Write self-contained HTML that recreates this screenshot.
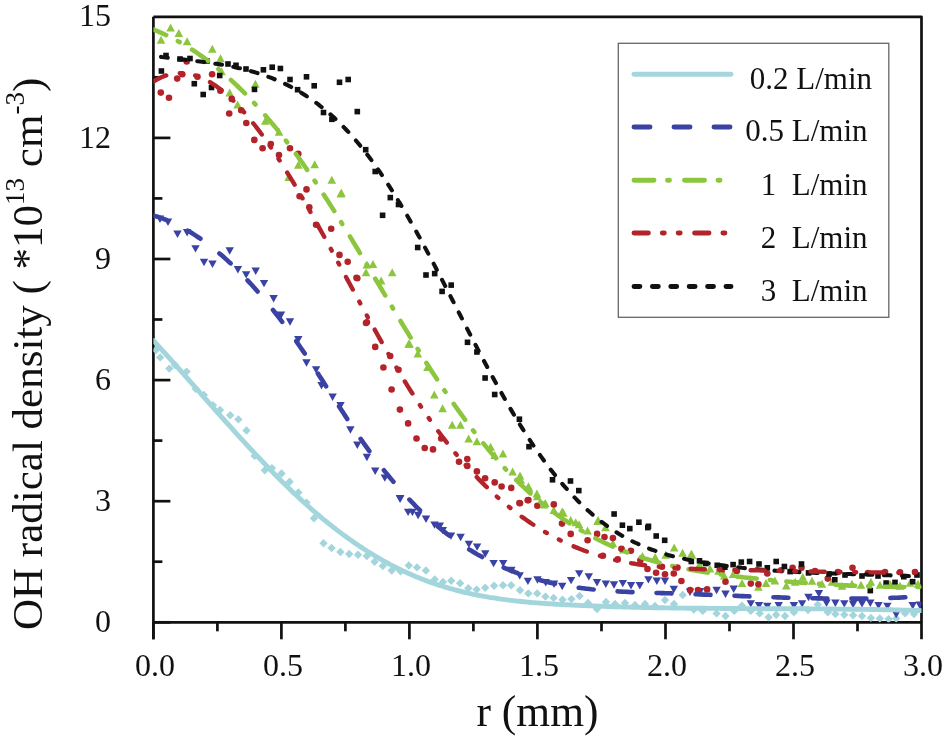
<!DOCTYPE html>
<html><head><meta charset="utf-8"><style>
html,body{margin:0;padding:0;background:#fff;}
svg{display:block;}
text{font-family:'Liberation Serif','Times New Roman',serif;fill:#111;}
.t{font-size:32px;}
.l{font-size:43.5px;}
.l2{font-size:43px;}
.sup{font-size:27px;}
.lg{font-size:31px;}
</style></head><body>
<svg width="947" height="739" viewBox="0 0 947 739">
<path d="M153.4 16.8 H921.5 V639.3" fill="none" stroke="#111" stroke-width="2.7" stroke-linejoin="round"/>
<path d="M153.4 16.8 V639.3" fill="none" stroke="#111" stroke-width="2.7"/>
<path d="M153.4 622.3 H921.5" fill="none" stroke="#111" stroke-width="2.7"/>
<line x1="153.4" y1="622.3" x2="153.4" y2="639.3" stroke="#111" stroke-width="2.7"/>
<line x1="217.4" y1="622.3" x2="217.4" y2="631.3" stroke="#111" stroke-width="2.7"/>
<line x1="281.4" y1="622.3" x2="281.4" y2="639.3" stroke="#111" stroke-width="2.7"/>
<line x1="345.4" y1="622.3" x2="345.4" y2="631.3" stroke="#111" stroke-width="2.7"/>
<line x1="409.4" y1="622.3" x2="409.4" y2="639.3" stroke="#111" stroke-width="2.7"/>
<line x1="473.4" y1="622.3" x2="473.4" y2="631.3" stroke="#111" stroke-width="2.7"/>
<line x1="537.4" y1="622.3" x2="537.4" y2="639.3" stroke="#111" stroke-width="2.7"/>
<line x1="601.5" y1="622.3" x2="601.5" y2="631.3" stroke="#111" stroke-width="2.7"/>
<line x1="665.5" y1="622.3" x2="665.5" y2="639.3" stroke="#111" stroke-width="2.7"/>
<line x1="729.5" y1="622.3" x2="729.5" y2="631.3" stroke="#111" stroke-width="2.7"/>
<line x1="793.5" y1="622.3" x2="793.5" y2="639.3" stroke="#111" stroke-width="2.7"/>
<line x1="857.5" y1="622.3" x2="857.5" y2="631.3" stroke="#111" stroke-width="2.7"/>
<line x1="153.4" y1="622.3" x2="170.4" y2="622.3" stroke="#111" stroke-width="2.7"/>
<line x1="153.4" y1="561.7" x2="162.4" y2="561.7" stroke="#111" stroke-width="2.7"/>
<line x1="153.4" y1="501.2" x2="170.4" y2="501.2" stroke="#111" stroke-width="2.7"/>
<line x1="153.4" y1="440.6" x2="162.4" y2="440.6" stroke="#111" stroke-width="2.7"/>
<line x1="153.4" y1="380.1" x2="170.4" y2="380.1" stroke="#111" stroke-width="2.7"/>
<line x1="153.4" y1="319.5" x2="162.4" y2="319.5" stroke="#111" stroke-width="2.7"/>
<line x1="153.4" y1="259.0" x2="170.4" y2="259.0" stroke="#111" stroke-width="2.7"/>
<line x1="153.4" y1="198.4" x2="162.4" y2="198.4" stroke="#111" stroke-width="2.7"/>
<line x1="153.4" y1="137.9" x2="170.4" y2="137.9" stroke="#111" stroke-width="2.7"/>
<line x1="153.4" y1="77.3" x2="162.4" y2="77.3" stroke="#111" stroke-width="2.7"/>
<defs><clipPath id="pc"><rect x="153.4" y="17" width="768.1" height="605.3"/></clipPath></defs>
<g clip-path="url(#pc)">
<g fill="#a3d5dd"><path d="M160.2 353.2L164.4 357.4L160.2 361.6L156.0 357.4Z"/><path d="M169.3 364.4L173.5 368.6L169.3 372.8L165.1 368.6Z"/><path d="M186.6 367.4L190.8 371.6L186.6 375.8L182.4 371.6Z"/><path d="M195.7 384.7L199.9 388.9L195.7 393.1L191.5 388.9Z"/><path d="M203.8 390.8L208.0 395.0L203.8 399.2L199.6 395.0Z"/><path d="M213.0 401.0L217.2 405.2L213.0 409.4L208.8 405.2Z"/><path d="M230.2 411.1L234.4 415.3L230.2 419.5L226.0 415.3Z"/><path d="M238.4 415.2L242.6 419.4L238.4 423.6L234.2 419.4Z"/><path d="M246.5 426.3L250.7 430.5L246.5 434.7L242.3 430.5Z"/><path d="M254.6 451.7L258.8 455.9L254.6 460.1L250.4 455.9Z"/><path d="M264.8 466.0L269.0 470.2L264.8 474.4L260.6 470.2Z"/><path d="M271.9 463.9L276.1 468.1L271.9 472.3L267.7 468.1Z"/><path d="M156.0 345.8L160.2 350.0L156.0 354.2L151.8 350.0Z"/><path d="M175.0 360.8L179.2 365.0L175.0 369.2L170.8 365.0Z"/><path d="M220.0 405.8L224.2 410.0L220.0 414.2L215.8 410.0Z"/><path d="M281.5 469.3L285.7 473.5L281.5 477.7L277.3 473.5Z"/><path d="M289.6 477.5L293.8 481.7L289.6 485.9L285.4 481.7Z"/><path d="M298.4 488.3L302.6 492.5L298.4 496.7L294.2 492.5Z"/><path d="M306.5 498.4L310.7 502.6L306.5 506.8L302.3 502.6Z"/><path d="M314.0 514.0L318.2 518.2L314.0 522.4L309.8 518.2Z"/><path d="M323.5 539.0L327.7 543.2L323.5 547.4L319.3 543.2Z"/><path d="M331.6 543.8L335.8 548.0L331.6 552.2L327.4 548.0Z"/><path d="M340.4 547.8L344.6 552.0L340.4 556.2L336.2 552.0Z"/><path d="M349.2 549.8L353.4 554.0L349.2 558.2L345.0 554.0Z"/><path d="M358.0 550.5L362.2 554.7L358.0 558.9L353.8 554.7Z"/><path d="M366.8 551.8L371.0 556.0L366.8 560.2L362.6 556.0Z"/><path d="M374.6 557.5L378.8 561.7L374.6 565.9L370.4 561.7Z"/><path d="M382.8 561.9L387.0 566.1L382.8 570.3L378.6 566.1Z"/><path d="M391.7 566.3L395.9 570.5L391.7 574.7L387.5 570.5Z"/><path d="M400.5 567.0L404.7 571.2L400.5 575.4L396.3 571.2Z"/><path d="M408.8 561.3L413.0 565.5L408.8 569.7L404.6 565.5Z"/><path d="M417.0 563.2L421.2 567.4L417.0 571.6L412.8 567.4Z"/><path d="M425.9 566.3L430.1 570.5L425.9 574.7L421.7 570.5Z"/><path d="M434.8 575.2L439.0 579.4L434.8 583.6L430.6 579.4Z"/><path d="M443.0 577.8L447.2 582.0L443.0 586.2L438.8 582.0Z"/><path d="M451.2 576.5L455.4 580.7L451.2 584.9L447.0 580.7Z"/><path d="M460.1 579.0L464.3 583.2L460.1 587.4L455.9 583.2Z"/><path d="M468.3 584.1L472.5 588.3L468.3 592.5L464.1 588.3Z"/><path d="M476.6 585.4L480.8 589.6L476.6 593.8L472.4 589.6Z"/><path d="M485.2 583.5L489.4 587.7L485.2 591.9L481.0 587.7Z"/><path d="M494.1 581.6L498.3 585.8L494.1 590.0L489.9 585.8Z"/><path d="M503.0 581.0L507.2 585.2L503.0 589.4L498.8 585.2Z"/><path d="M511.2 581.0L515.4 585.2L511.2 589.4L507.0 585.2Z"/><path d="M520.0 586.1L524.2 590.3L520.0 594.5L515.8 590.3Z"/><path d="M528.3 589.2L532.5 593.4L528.3 597.6L524.1 593.4Z"/><path d="M537.2 589.2L541.4 593.4L537.2 597.6L533.0 593.4Z"/><path d="M545.4 592.4L549.6 596.6L545.4 600.8L541.2 596.6Z"/><path d="M553.6 593.7L557.8 597.9L553.6 602.1L549.4 597.9Z"/><path d="M562.5 595.6L566.7 599.8L562.5 604.0L558.3 599.8Z"/><path d="M571.4 594.9L575.6 599.1L571.4 603.3L567.2 599.1Z"/><path d="M579.6 591.8L583.8 596.0L579.6 600.2L575.4 596.0Z"/><path d="M597.0 604.8L601.2 609.0L597.0 613.2L592.8 609.0Z"/><path d="M665.0 595.9L669.2 600.1L665.0 604.3L660.8 600.1Z"/><path d="M682.7 590.8L686.9 595.0L682.7 599.2L678.5 595.0Z"/><path d="M588.0 598.8L592.2 603.0L588.0 607.2L583.8 603.0Z"/><path d="M606.0 597.8L610.2 602.0L606.0 606.2L601.8 602.0Z"/><path d="M615.0 599.8L619.2 604.0L615.0 608.2L610.8 604.0Z"/><path d="M625.0 598.8L629.2 603.0L625.0 607.2L620.8 603.0Z"/><path d="M635.0 600.8L639.2 605.0L635.0 609.2L630.8 605.0Z"/><path d="M645.0 599.8L649.2 604.0L645.0 608.2L640.8 604.0Z"/><path d="M655.0 601.8L659.2 606.0L655.0 610.2L650.8 606.0Z"/><path d="M674.0 599.8L678.2 604.0L674.0 608.2L669.8 604.0Z"/><path d="M693.8 605.4L698.0 609.6L693.8 613.8L689.6 609.6Z"/><path d="M702.7 606.7L706.9 610.9L702.7 615.1L698.5 610.9Z"/><path d="M716.6 609.2L720.8 613.4L716.6 617.6L712.4 613.4Z"/><path d="M725.5 611.8L729.7 616.0L725.5 620.2L721.3 616.0Z"/><path d="M734.3 606.7L738.5 610.9L734.3 615.1L730.1 610.9Z"/><path d="M742.0 601.6L746.2 605.8L742.0 610.0L737.8 605.8Z"/><path d="M750.8 606.7L755.0 610.9L750.8 615.1L746.6 610.9Z"/><path d="M759.7 609.2L763.9 613.4L759.7 617.6L755.5 613.4Z"/><path d="M768.6 613.0L772.8 617.2L768.6 621.4L764.4 617.2Z"/><path d="M776.2 610.5L780.4 614.7L776.2 618.9L772.0 614.7Z"/><path d="M785.0 611.8L789.2 616.0L785.0 620.2L780.8 616.0Z"/><path d="M793.9 608.0L798.1 612.2L793.9 616.4L789.7 612.2Z"/><path d="M808.0 605.8L812.2 610.0L808.0 614.2L803.8 610.0Z"/><path d="M817.7 600.4L821.9 604.6L817.7 608.8L813.5 604.6Z"/><path d="M827.8 608.0L832.0 612.2L827.8 616.4L823.6 612.2Z"/><path d="M835.4 609.8L839.6 614.0L835.4 618.2L831.2 614.0Z"/><path d="M844.3 610.5L848.5 614.7L844.3 618.9L840.1 614.7Z"/><path d="M853.1 611.1L857.3 615.3L853.1 619.5L848.9 615.3Z"/><path d="M862.0 611.8L866.2 616.0L862.0 620.2L857.8 616.0Z"/><path d="M870.9 613.7L875.1 617.9L870.9 622.1L866.7 617.9Z"/><path d="M879.8 614.3L884.0 618.5L879.8 622.7L875.6 618.5Z"/><path d="M888.6 614.9L892.8 619.1L888.6 623.3L884.4 619.1Z"/><path d="M896.2 614.3L900.4 618.5L896.2 622.7L892.0 618.5Z"/><path d="M905.1 609.2L909.3 613.4L905.1 617.6L900.9 613.4Z"/><path d="M914.0 609.8L918.2 614.0L914.0 618.2L909.8 614.0Z"/></g>
<g fill="#3a42a4"><path d="M242.0 271.2H250.4L246.2 278.6Z"/><path d="M276.8 311.5H285.2L281.0 318.9Z"/><path d="M317.3 382.0H325.7L321.5 389.4Z"/><path d="M336.3 402.0H344.7L340.5 409.4Z"/><path d="M173.3 230.5H181.7L177.5 237.9Z"/><path d="M182.9 229.1H191.3L187.1 236.5Z"/><path d="M191.3 245.2H199.7L195.5 252.6Z"/><path d="M199.8 258.8H208.2L204.0 266.2Z"/><path d="M208.3 260.5H216.7L212.5 267.9Z"/><path d="M225.5 247.3H233.9L229.7 254.7Z"/><path d="M233.7 266.1H242.1L237.9 273.5Z"/><path d="M251.5 267.5H259.9L255.7 274.9Z"/><path d="M259.8 279.9H268.2L264.0 287.3Z"/><path d="M269.4 295.0H277.8L273.6 302.4Z"/><path d="M285.8 318.3H294.2L290.0 325.7Z"/><path d="M294.1 336.0H302.5L298.3 343.4Z"/><path d="M302.3 359.3H310.7L306.5 366.7Z"/><path d="M311.9 366.2H320.3L316.1 373.6Z"/><path d="M328.4 393.5H336.8L332.6 400.9Z"/><path d="M346.2 426.3H354.6L350.4 433.7Z"/><path d="M353.1 441.5H361.5L357.3 448.9Z"/><path d="M362.7 453.8H371.1L366.9 461.2Z"/><path d="M371.0 467.5H379.4L375.2 474.9Z"/><path d="M380.6 474.4H389.0L384.8 481.8Z"/><path d="M395.7 495.0H404.1L399.9 502.4Z"/><path d="M403.9 508.7H412.3L408.1 516.1Z"/><path d="M408.2 508.7H416.6L412.4 516.1Z"/><path d="M421.8 515.5H430.2L426.0 522.9Z"/><path d="M435.6 522.5H444.0L439.8 529.9Z"/><path d="M396.0 495.3H404.4L400.2 502.7Z"/><path d="M413.9 511.8H422.3L418.1 519.2Z"/><path d="M430.3 521.4H438.7L434.5 528.8Z"/><path d="M438.6 526.9H447.0L442.8 534.3Z"/><path d="M446.8 532.4H455.2L451.0 539.8Z"/><path d="M456.4 533.8H464.8L460.6 541.2Z"/><path d="M464.7 540.7H473.1L468.9 548.1Z"/><path d="M472.9 543.4H481.3L477.1 550.8Z"/><path d="M481.1 550.3H489.5L485.3 557.7Z"/><path d="M489.4 559.9H497.8L493.6 567.3Z"/><path d="M499.0 559.9H507.4L503.2 567.3Z"/><path d="M507.2 566.7H515.6L511.4 574.1Z"/><path d="M515.5 572.2H523.9L519.7 579.6Z"/><path d="M523.7 577.7H532.1L527.9 585.1Z"/><path d="M533.3 576.3H541.7L537.5 583.7Z"/><path d="M541.5 579.1H549.9L545.7 586.5Z"/><path d="M549.8 580.5H558.2L554.0 587.9Z"/><path d="M558.0 582.8H566.4L562.2 590.2Z"/><path d="M566.9 576.9H575.3L571.1 584.3Z"/><path d="M575.0 570.2H583.4L579.2 577.6Z"/><path d="M584.6 573.2H593.0L588.8 580.6Z"/><path d="M592.8 579.1H601.2L597.0 586.5Z"/><path d="M601.6 580.6H610.0L605.8 588.0Z"/><path d="M609.8 581.3H618.2L614.0 588.7Z"/><path d="M618.6 579.9H627.0L622.8 587.3Z"/><path d="M626.8 582.1H635.2L631.0 589.5Z"/><path d="M635.6 582.1H644.0L639.8 589.5Z"/><path d="M644.2 576.2H652.6L648.4 583.6Z"/><path d="M652.6 577.6H661.0L656.8 585.0Z"/><path d="M660.8 577.6H669.2L665.0 585.0Z"/><path d="M669.6 585.8H678.0L673.8 593.2Z"/><path d="M685.8 588.5H694.2L690.0 595.9Z"/><path d="M695.9 588.1H704.3L700.1 595.5Z"/><path d="M712.4 586.8H720.8L716.6 594.2Z"/><path d="M721.3 590.6H729.7L725.5 598.0Z"/><path d="M729.5 585.6H737.9L733.7 593.0Z"/><path d="M746.6 600.2H755.0L750.8 607.6Z"/><path d="M754.8 602.1H763.2L759.0 609.5Z"/><path d="M763.1 602.7H771.5L767.3 610.1Z"/><path d="M774.5 602.1H782.9L778.7 609.5Z"/><path d="M789.7 602.1H798.1L793.9 609.5Z"/><path d="M797.9 600.2H806.3L802.1 607.6Z"/><path d="M804.3 593.8H812.7L808.5 601.2Z"/><path d="M814.7 590.0H823.1L818.9 597.4Z"/><path d="M822.3 599.5H830.7L826.5 606.9Z"/><path d="M831.2 599.5H839.6L835.4 606.9Z"/><path d="M840.1 600.2H848.5L844.3 607.6Z"/><path d="M848.9 600.8H857.3L853.1 608.2Z"/><path d="M857.8 600.2H866.2L862.0 607.6Z"/><path d="M866.1 599.5H874.5L870.3 606.9Z"/><path d="M874.3 602.1H882.7L878.5 609.5Z"/><path d="M883.2 602.7H891.6L887.4 610.1Z"/><path d="M892.0 610.9H900.4L896.2 618.3Z"/><path d="M908.5 602.1H916.9L912.7 609.5Z"/><path d="M915.5 601.5H923.9L919.7 608.9Z"/><path d="M155.8 215.5H164.2L160.0 222.9Z"/><path d="M163.8 218.5H172.2L168.0 225.9Z"/></g>
<g fill="#8cc63f"><path d="M156.7 43.8H165.3L161.0 35.8Z"/><path d="M166.3 31.4H174.9L170.6 23.4Z"/><path d="M174.5 36.9H183.1L178.8 28.9Z"/><path d="M182.8 45.2H191.4L187.1 37.2Z"/><path d="M208.0 52.8H216.6L212.3 44.8Z"/><path d="M216.2 62.2H224.8L220.5 54.2Z"/><path d="M217.2 75.2H225.8L221.5 67.2Z"/><path d="M225.4 96.6H234.0L229.7 88.6Z"/><path d="M233.3 108.4H241.9L237.6 100.4Z"/><path d="M251.1 87.7H259.7L255.4 79.7Z"/><path d="M261.0 124.7H269.6L265.3 116.7Z"/><path d="M274.7 135.7H283.3L279.0 127.7Z"/><path d="M294.0 168.7H302.6L298.3 160.7Z"/><path d="M310.4 168.2H319.0L314.7 160.2Z"/><path d="M284.4 181.1H293.0L288.7 173.1Z"/><path d="M327.5 183.8H336.1L331.8 175.8Z"/><path d="M336.5 197.5H345.1L340.8 189.5Z"/><path d="M337.1 196.7H345.7L341.4 188.7Z"/><path d="M368.7 268.0H377.3L373.0 260.0Z"/><path d="M361.7 276.3H370.3L366.0 268.3Z"/><path d="M387.9 276.3H396.5L392.2 268.3Z"/><path d="M376.9 284.5H385.5L381.2 276.5Z"/><path d="M404.3 347.7H412.9L408.6 339.7Z"/><path d="M362.6 268.6H371.2L366.9 260.6Z"/><path d="M405.3 347.8H413.9L409.6 339.8Z"/><path d="M413.5 357.4H422.1L417.8 349.4Z"/><path d="M423.2 371.1H431.8L427.5 363.1Z"/><path d="M430.0 398.6H438.6L434.3 390.6Z"/><path d="M438.3 412.3H446.9L442.6 404.3Z"/><path d="M447.9 428.8H456.5L452.2 420.8Z"/><path d="M456.1 428.8H464.7L460.4 420.8Z"/><path d="M464.3 442.5H472.9L468.6 434.5Z"/><path d="M472.6 445.3H481.2L476.9 437.3Z"/><path d="M486.3 450.7H494.9L490.6 442.7Z"/><path d="M490.4 459.0H499.0L494.7 451.0Z"/><path d="M498.7 457.6H507.3L503.0 449.6Z"/><path d="M508.3 475.5H516.9L512.6 467.5Z"/><path d="M516.5 483.7H525.1L520.8 475.7Z"/><path d="M524.7 492.0H533.3L529.0 484.0Z"/><path d="M533.0 500.2H541.6L537.3 492.2Z"/><path d="M539.9 508.4H548.5L544.2 500.4Z"/><path d="M549.5 513.9H558.1L553.8 505.9Z"/><path d="M559.1 516.7H567.7L563.4 508.7Z"/><path d="M571.4 526.3H580.0L575.7 518.3Z"/><path d="M593.4 524.9H602.0L597.7 516.9Z"/><path d="M515.7 479.6H524.3L520.0 471.6Z"/><path d="M524.1 490.2H532.7L528.4 482.2Z"/><path d="M532.6 497.5H541.2L536.9 489.5Z"/><path d="M541.0 507.1H549.6L545.3 499.1Z"/><path d="M557.9 515.5H566.5L562.2 507.5Z"/><path d="M566.4 523.9H575.0L570.7 515.9Z"/><path d="M574.8 528.2H583.4L579.1 520.2Z"/><path d="M583.3 534.5H591.9L587.6 526.5Z"/><path d="M593.8 523.9H602.4L598.1 515.9Z"/><path d="M601.2 531.3H609.8L605.5 523.3Z"/><path d="M608.6 547.2H617.2L612.9 539.2Z"/><path d="M619.2 553.5H627.8L623.5 545.5Z"/><path d="M638.2 559.9H646.8L642.5 551.9Z"/><path d="M650.9 560.9H659.5L655.2 552.9Z"/><path d="M661.4 558.8H670.0L665.7 550.8Z"/><path d="M669.9 551.4H678.5L674.2 543.4Z"/><path d="M678.3 556.7H686.9L682.6 548.7Z"/><path d="M687.8 558.8H696.4L692.1 550.8Z"/><path d="M695.2 568.3H703.8L699.5 560.3Z"/><path d="M705.7 572.5H714.3L710.0 564.5Z"/><path d="M714.2 574.7H722.8L718.5 566.7Z"/><path d="M687.0 557.8H695.6L691.3 549.8Z"/><path d="M719.9 579.4H728.5L724.2 571.4Z"/><path d="M728.8 578.1H737.4L733.1 570.1Z"/><path d="M737.7 587.0H746.3L742.0 579.0Z"/><path d="M754.1 590.8H762.7L758.4 582.8Z"/><path d="M761.7 587.0H770.3L766.0 579.0Z"/><path d="M770.6 584.4H779.2L774.9 576.4Z"/><path d="M782.0 589.5H790.6L786.3 581.5Z"/><path d="M790.9 585.7H799.5L795.2 577.7Z"/><path d="M798.5 580.7H807.1L802.8 572.7Z"/><path d="M866.6 585.7H875.2L870.9 577.7Z"/><path d="M807.7 584.7H816.3L812.0 576.7Z"/><path d="M817.7 587.7H826.3L822.0 579.7Z"/><path d="M827.7 585.7H836.3L832.0 577.7Z"/><path d="M837.7 589.7H846.3L842.0 581.7Z"/><path d="M847.7 587.7H856.3L852.0 579.7Z"/><path d="M856.7 588.7H865.3L861.0 580.7Z"/><path d="M875.7 588.7H884.3L880.0 580.7Z"/><path d="M885.7 587.7H894.3L890.0 579.7Z"/><path d="M895.7 589.7H904.3L900.0 581.7Z"/><path d="M905.7 586.7H914.3L910.0 578.7Z"/><path d="M913.7 587.7H922.3L918.0 579.7Z"/></g>
<g fill="#b3232a"><circle cx="160.8" cy="92.6" r="3.3"/><circle cx="169.0" cy="97.7" r="3.3"/><circle cx="177.2" cy="78.6" r="3.3"/><circle cx="182.3" cy="74.2" r="3.3"/><circle cx="186.7" cy="61.5" r="3.3"/><circle cx="197.5" cy="76.7" r="3.3"/><circle cx="212.1" cy="74.2" r="3.3"/><circle cx="220.3" cy="90.7" r="3.3"/><circle cx="231.7" cy="98.9" r="3.3"/><circle cx="229.2" cy="113.5" r="3.3"/><circle cx="241.2" cy="110.3" r="3.3"/><circle cx="246.3" cy="123.0" r="3.3"/><circle cx="254.3" cy="139.9" r="3.3"/><circle cx="262.6" cy="148.2" r="3.3"/><circle cx="270.8" cy="144.0" r="3.3"/><circle cx="279.0" cy="155.0" r="3.3"/><circle cx="290.0" cy="148.2" r="3.3"/><circle cx="298.3" cy="153.7" r="3.3"/><circle cx="306.5" cy="189.4" r="3.3"/><circle cx="299.6" cy="196.2" r="3.3"/><circle cx="309.3" cy="207.2" r="3.3"/><circle cx="316.1" cy="224.7" r="3.3"/><circle cx="331.2" cy="228.8" r="3.3"/><circle cx="339.5" cy="254.9" r="3.3"/><circle cx="347.7" cy="261.8" r="3.3"/><circle cx="357.3" cy="278.3" r="3.3"/><circle cx="366.9" cy="322.2" r="3.3"/><circle cx="375.2" cy="346.9" r="3.3"/><circle cx="383.4" cy="367.5" r="3.3"/><circle cx="391.6" cy="389.5" r="3.3"/><circle cx="390.2" cy="356.0" r="3.3"/><circle cx="398.5" cy="369.8" r="3.3"/><circle cx="399.9" cy="409.6" r="3.3"/><circle cx="408.1" cy="423.4" r="3.3"/><circle cx="356.5" cy="277.7" r="3.3"/><circle cx="366.0" cy="323.0" r="3.3"/><circle cx="416.5" cy="438.5" r="3.3"/><circle cx="424.7" cy="448.0" r="3.3"/><circle cx="433.0" cy="449.4" r="3.3"/><circle cx="441.2" cy="438.5" r="3.3"/><circle cx="459.0" cy="461.8" r="3.3"/><circle cx="467.3" cy="459.0" r="3.3"/><circle cx="467.3" cy="465.9" r="3.3"/><circle cx="476.9" cy="471.4" r="3.3"/><circle cx="485.1" cy="478.3" r="3.3"/><circle cx="494.7" cy="482.4" r="3.3"/><circle cx="501.6" cy="486.5" r="3.3"/><circle cx="511.2" cy="487.9" r="3.3"/><circle cx="519.4" cy="503.0" r="3.3"/><circle cx="527.7" cy="500.2" r="3.3"/><circle cx="537.3" cy="505.7" r="3.3"/><circle cx="553.8" cy="504.4" r="3.3"/><circle cx="562.0" cy="523.6" r="3.3"/><circle cx="520.0" cy="503.3" r="3.3"/><circle cx="528.4" cy="500.1" r="3.3"/><circle cx="570.7" cy="533.9" r="3.3"/><circle cx="587.6" cy="540.3" r="3.3"/><circle cx="597.1" cy="533.9" r="3.3"/><circle cx="604.5" cy="537.1" r="3.3"/><circle cx="612.9" cy="538.1" r="3.3"/><circle cx="621.4" cy="548.7" r="3.3"/><circle cx="630.9" cy="550.8" r="3.3"/><circle cx="640.4" cy="560.3" r="3.3"/><circle cx="647.5" cy="569.0" r="3.3"/><circle cx="656.1" cy="572.7" r="3.3"/><circle cx="665.0" cy="574.2" r="3.3"/><circle cx="673.8" cy="573.5" r="3.3"/><circle cx="677.5" cy="567.6" r="3.3"/><circle cx="662.0" cy="566.8" r="3.3"/><circle cx="681.4" cy="581.0" r="3.3"/><circle cx="690.1" cy="590.0" r="3.3"/><circle cx="698.0" cy="590.0" r="3.3"/><circle cx="707.1" cy="589.4" r="3.3"/><circle cx="602.9" cy="555.7" r="3.3"/><circle cx="617.7" cy="559.4" r="3.3"/><circle cx="721.7" cy="570.3" r="3.3"/><circle cx="736.9" cy="571.0" r="3.3"/><circle cx="725.5" cy="581.7" r="3.3"/><circle cx="750.8" cy="583.6" r="3.3"/><circle cx="758.4" cy="584.3" r="3.3"/><circle cx="767.3" cy="573.5" r="3.3"/><circle cx="781.2" cy="570.3" r="3.3"/><circle cx="792.6" cy="567.8" r="3.3"/><circle cx="801.5" cy="567.8" r="3.3"/><circle cx="852.5" cy="567.8" r="3.3"/><circle cx="827.8" cy="578.6" r="3.3"/><circle cx="900.0" cy="572.2" r="3.3"/><circle cx="815.0" cy="571.0" r="3.3"/><circle cx="838.0" cy="572.0" r="3.3"/><circle cx="868.0" cy="573.0" r="3.3"/><circle cx="885.0" cy="572.0" r="3.3"/><circle cx="915.0" cy="572.0" r="3.3"/></g>
<g fill="#111111"><rect x="294.8" y="86.9" width="5.6" height="5.6"/><rect x="320.7" y="109.7" width="5.6" height="5.6"/><rect x="329.1" y="116.5" width="5.6" height="5.6"/><rect x="362.9" y="146.9" width="5.6" height="5.6"/><rect x="158.6" y="68.2" width="5.6" height="5.6"/><rect x="191.5" y="80.9" width="5.6" height="5.6"/><rect x="200.4" y="91.7" width="5.6" height="5.6"/><rect x="208.7" y="84.7" width="5.6" height="5.6"/><rect x="216.9" y="72.7" width="5.6" height="5.6"/><rect x="233.2" y="62.5" width="5.6" height="5.6"/><rect x="251.7" y="86.6" width="5.6" height="5.6"/><rect x="260.6" y="67.0" width="5.6" height="5.6"/><rect x="269.4" y="64.4" width="5.6" height="5.6"/><rect x="277.6" y="65.7" width="5.6" height="5.6"/><rect x="287.2" y="76.7" width="5.6" height="5.6"/><rect x="303.7" y="74.0" width="5.6" height="5.6"/><rect x="311.4" y="83.0" width="5.6" height="5.6"/><rect x="336.7" y="79.5" width="5.6" height="5.6"/><rect x="345.4" y="76.7" width="5.6" height="5.6"/><rect x="354.5" y="108.8" width="5.6" height="5.6"/><rect x="372.4" y="168.7" width="5.6" height="5.6"/><rect x="387.5" y="194.8" width="5.6" height="5.6"/><rect x="395.7" y="201.7" width="5.6" height="5.6"/><rect x="163.2" y="52.7" width="5.6" height="5.6"/><rect x="177.2" y="56.2" width="5.6" height="5.6"/><rect x="187.2" y="55.7" width="5.6" height="5.6"/><rect x="204.2" y="58.2" width="5.6" height="5.6"/><rect x="225.2" y="61.2" width="5.6" height="5.6"/><rect x="243.2" y="66.2" width="5.6" height="5.6"/><rect x="379.8" y="212.5" width="5.6" height="5.6"/><rect x="414.9" y="244.7" width="5.6" height="5.6"/><rect x="423.2" y="272.2" width="5.6" height="5.6"/><rect x="431.9" y="270.8" width="5.6" height="5.6"/><rect x="448.4" y="282.3" width="5.6" height="5.6"/><rect x="439.3" y="288.6" width="5.6" height="5.6"/><rect x="464.7" y="339.5" width="5.6" height="5.6"/><rect x="474.1" y="349.2" width="5.6" height="5.6"/><rect x="482.3" y="375.2" width="5.6" height="5.6"/><rect x="491.9" y="391.7" width="5.6" height="5.6"/><rect x="516.6" y="416.4" width="5.6" height="5.6"/><rect x="526.2" y="443.9" width="5.6" height="5.6"/><rect x="549.7" y="477.0" width="5.6" height="5.6"/><rect x="567.7" y="478.2" width="5.6" height="5.6"/><rect x="576.0" y="487.8" width="5.6" height="5.6"/><rect x="611.3" y="511.2" width="5.6" height="5.6"/><rect x="636.1" y="519.4" width="5.6" height="5.6"/><rect x="645.7" y="523.5" width="5.6" height="5.6"/><rect x="619.6" y="522.4" width="5.6" height="5.6"/><rect x="627.0" y="525.8" width="5.6" height="5.6"/><rect x="653.4" y="533.2" width="5.6" height="5.6"/><rect x="661.9" y="537.5" width="5.6" height="5.6"/><rect x="703.0" y="560.7" width="5.6" height="5.6"/><rect x="645.0" y="524.8" width="5.6" height="5.6"/><rect x="688.5" y="558.7" width="5.6" height="5.6"/><rect x="696.7" y="558.0" width="5.6" height="5.6"/><rect x="714.4" y="562.5" width="5.6" height="5.6"/><rect x="722.0" y="564.4" width="5.6" height="5.6"/><rect x="730.3" y="561.8" width="5.6" height="5.6"/><rect x="738.5" y="559.3" width="5.6" height="5.6"/><rect x="746.8" y="558.7" width="5.6" height="5.6"/><rect x="756.2" y="561.2" width="5.6" height="5.6"/><rect x="764.5" y="565.0" width="5.6" height="5.6"/><rect x="773.4" y="558.7" width="5.6" height="5.6"/><rect x="781.6" y="563.7" width="5.6" height="5.6"/><rect x="798.7" y="561.2" width="5.6" height="5.6"/><rect x="805.7" y="570.1" width="5.6" height="5.6"/><rect x="787.3" y="568.8" width="5.6" height="5.6"/><rect x="832.0" y="577.0" width="5.6" height="5.6"/><rect x="867.5" y="587.8" width="5.6" height="5.6"/><rect x="883.3" y="580.2" width="5.6" height="5.6"/><rect x="892.2" y="579.6" width="5.6" height="5.6"/><rect x="909.9" y="578.9" width="5.6" height="5.6"/><rect x="901.0" y="573.9" width="5.6" height="5.6"/><rect x="826.2" y="571.2" width="5.6" height="5.6"/><rect x="842.2" y="572.2" width="5.6" height="5.6"/><rect x="859.2" y="573.2" width="5.6" height="5.6"/><rect x="875.2" y="573.2" width="5.6" height="5.6"/><rect x="914.2" y="572.2" width="5.6" height="5.6"/></g>
<path d="M153.4 340.5 L155.4 342.7 L157.4 344.9 L159.4 347.1 L161.4 349.3 L163.4 351.5 L165.4 353.7 L167.4 355.9 L169.4 358.2 L171.4 360.4 L173.4 362.6 L175.4 364.9 L177.4 367.1 L179.4 369.4 L181.4 371.6 L183.4 373.9 L185.4 376.2 L187.4 378.4 L189.4 380.7 L191.4 382.9 L193.4 385.2 L195.4 387.5 L197.4 389.7 L199.4 392.0 L201.4 394.3 L203.4 396.5 L205.4 398.8 L207.4 401.0 L209.4 403.3 L211.4 405.5 L213.4 407.8 L215.4 410.1 L217.4 412.3 L219.4 414.5 L221.4 416.8 L223.4 419.0 L225.4 421.3 L227.4 423.5 L229.4 425.7 L231.4 427.9 L233.4 430.2 L235.4 432.4 L237.4 434.6 L239.4 436.8 L241.4 439.0 L243.4 441.1 L245.4 443.3 L247.4 445.5 L249.4 447.6 L251.4 449.8 L253.4 451.9 L255.4 454.1 L257.4 456.2 L259.4 458.3 L261.4 460.4 L263.4 462.5 L265.4 464.6 L267.4 466.7 L269.4 468.8 L271.4 470.8 L273.4 472.9 L275.4 474.9 L277.4 476.9 L279.4 478.9 L281.4 480.9 L283.4 482.9 L285.4 484.8 L287.4 486.8 L289.4 488.7 L291.4 490.7 L293.4 492.6 L295.4 494.5 L297.4 496.3 L299.4 498.2 L301.4 500.1 L303.4 501.9 L305.4 503.7 L307.4 505.5 L309.4 507.3 L311.4 509.1 L313.4 510.8 L315.4 512.5 L317.4 514.2 L319.4 515.9 L321.4 517.6 L323.4 519.3 L325.4 520.9 L327.4 522.5 L329.4 524.1 L331.4 525.7 L333.4 527.3 L335.4 528.8 L337.4 530.4 L339.4 531.9 L341.4 533.4 L343.4 534.9 L345.4 536.3 L347.4 537.8 L349.4 539.2 L351.4 540.6 L353.4 542.0 L355.4 543.4 L357.4 544.7 L359.4 546.1 L361.4 547.4 L363.4 548.7 L365.4 550.0 L367.4 551.3 L369.4 552.5 L371.4 553.7 L373.4 555.0 L375.4 556.2 L377.4 557.3 L379.4 558.5 L381.4 559.7 L383.4 560.8 L385.4 561.9 L387.4 563.0 L389.4 564.1 L391.4 565.1 L393.4 566.2 L395.4 567.2 L397.4 568.2 L399.4 569.2 L401.4 570.1 L403.4 571.1 L405.4 572.0 L407.4 572.9 L409.4 573.8 L411.4 574.7 L413.4 575.6 L415.4 576.4 L417.4 577.2 L419.4 578.1 L421.4 578.9 L423.4 579.6 L425.4 580.4 L427.4 581.1 L429.4 581.9 L431.4 582.6 L433.4 583.3 L435.4 584.0 L437.4 584.6 L439.4 585.3 L441.4 585.9 L443.4 586.5 L445.4 587.1 L447.4 587.7 L449.4 588.3 L451.4 588.9 L453.4 589.4 L455.4 590.0 L457.4 590.5 L459.4 591.0 L461.4 591.5 L463.4 592.0 L465.4 592.5 L467.4 592.9 L469.4 593.4 L471.4 593.8 L473.4 594.3 L475.4 594.7 L477.4 595.1 L479.4 595.5 L481.4 595.9 L483.4 596.2 L485.4 596.6 L487.4 596.9 L489.4 597.3 L491.4 597.6 L493.4 597.9 L495.4 598.2 L497.4 598.5 L499.4 598.8 L501.4 599.1 L503.4 599.4 L505.4 599.7 L507.4 599.9 L509.4 600.2 L511.4 600.4 L513.4 600.7 L515.4 600.9 L517.4 601.1 L519.4 601.3 L521.4 601.5 L523.4 601.7 L525.4 601.9 L527.4 602.1 L529.4 602.3 L531.4 602.5 L533.4 602.6 L535.4 602.8 L537.4 602.9 L539.4 603.1 L541.4 603.2 L543.4 603.4 L545.4 603.5 L547.4 603.7 L549.4 603.8 L551.4 603.9 L553.4 604.0 L555.4 604.2 L557.4 604.3 L559.4 604.4 L561.4 604.5 L563.4 604.6 L565.4 604.7 L567.4 604.8 L569.4 604.9 L571.4 605.0 L573.4 605.1 L575.4 605.2 L577.4 605.3 L579.4 605.4 L581.4 605.5 L583.4 605.6 L585.4 605.6 L587.4 605.7 L589.4 605.8 L591.4 605.9 L593.4 606.0 L595.4 606.0 L597.4 606.1 L599.4 606.2 L601.4 606.3 L603.4 606.3 L605.4 606.4 L607.4 606.5 L609.4 606.5 L611.4 606.6 L613.4 606.7 L615.4 606.7 L617.4 606.8 L619.4 606.8 L621.4 606.9 L623.4 607.0 L625.4 607.0 L627.4 607.1 L629.4 607.1 L631.4 607.2 L633.4 607.2 L635.4 607.3 L637.4 607.3 L639.4 607.4 L641.4 607.4 L643.4 607.5 L645.4 607.5 L647.4 607.5 L649.4 607.6 L651.4 607.6 L653.4 607.7 L655.4 607.7 L657.4 607.7 L659.4 607.8 L661.4 607.8 L663.4 607.8 L665.4 607.9 L667.4 607.9 L669.4 607.9 L671.4 608.0 L673.4 608.0 L675.4 608.0 L677.4 608.0 L679.4 608.1 L681.4 608.1 L683.4 608.1 L685.4 608.1 L687.4 608.2 L689.4 608.2 L691.4 608.2 L693.4 608.2 L695.4 608.2 L697.4 608.3 L699.4 608.3 L701.4 608.3 L703.4 608.3 L705.4 608.3 L707.4 608.4 L709.4 608.4 L711.4 608.4 L713.4 608.4 L715.4 608.4 L717.4 608.4 L719.4 608.4 L721.4 608.5 L723.4 608.5 L725.4 608.5 L727.4 608.5 L729.4 608.5 L731.4 608.5 L733.4 608.5 L735.4 608.5 L737.4 608.5 L739.4 608.6 L741.4 608.6 L743.4 608.6 L745.4 608.6 L747.4 608.6 L749.4 608.6 L751.4 608.6 L753.4 608.6 L755.4 608.6 L757.4 608.6 L759.4 608.6 L761.4 608.7 L763.4 608.7 L765.4 608.7 L767.4 608.7 L769.4 608.7 L771.4 608.7 L773.4 608.7 L775.4 608.7 L777.4 608.7 L779.4 608.7 L781.4 608.7 L783.4 608.7 L785.4 608.7 L787.4 608.8 L789.4 608.8 L791.4 608.8 L793.4 608.8 L795.4 608.8 L797.4 608.8 L799.4 608.8 L801.4 608.8 L803.4 608.8 L805.4 608.8 L807.4 608.8 L809.4 608.9 L811.4 608.9 L813.4 608.9 L815.4 608.9 L817.4 608.9 L819.4 608.9 L821.4 608.9 L823.4 608.9 L825.4 609.0 L827.4 609.0 L829.4 609.0 L831.4 609.0 L833.4 609.0 L835.4 609.0 L837.4 609.1 L839.4 609.1 L841.4 609.1 L843.4 609.1 L845.4 609.1 L847.4 609.2 L849.4 609.2 L851.4 609.2 L853.4 609.2 L855.4 609.3 L857.4 609.3 L859.4 609.3 L861.4 609.3 L863.4 609.4 L865.4 609.4 L867.4 609.4 L869.4 609.4 L871.4 609.5 L873.4 609.5 L875.4 609.5 L877.4 609.6 L879.4 609.6 L881.4 609.6 L883.4 609.7 L885.4 609.7 L887.4 609.8 L889.4 609.8 L891.4 609.8 L893.4 609.9 L895.4 609.9 L897.4 610.0 L899.4 610.0 L901.4 610.1 L903.4 610.1 L905.4 610.2 L907.4 610.2 L909.4 610.3 L911.4 610.3 L913.4 610.4 L915.4 610.4 L917.4 610.5 L919.4 610.5 L921.4 610.6" fill="none" stroke="#a3d5dd" stroke-width="4.9" stroke-linecap="round" stroke-linejoin="round"/>
<path d="M153.4 215.5 L155.4 216.1 L157.4 216.7 L159.4 217.4 L161.4 218.1 L163.4 218.8 L165.4 219.6 L167.4 220.4 L169.4 221.3 L171.4 222.1 L173.4 223.1 L175.4 224.0 L177.4 225.0 L179.4 226.0 L181.4 227.1 L183.4 228.1 L185.4 229.3 L187.4 230.4 L189.4 231.6 L191.4 232.8 L193.4 234.1 L195.4 235.4 L197.4 236.7 L199.4 238.0 L201.4 239.4 L203.4 240.8 L205.4 242.3 L207.4 243.8 L209.4 245.3 L211.4 246.9 L213.4 248.4 L215.4 250.1 L217.4 251.7 L219.4 253.4 L221.4 255.1 L223.4 256.8 L225.4 258.6 L227.4 260.4 L229.4 262.3 L231.4 264.1 L233.4 266.0 L235.4 268.0 L237.4 269.9 L239.4 271.9 L241.4 273.9 L243.4 276.0 L245.4 278.1 L247.4 280.2 L249.4 282.4 L251.4 284.5 L253.4 286.7 L255.4 289.0 L257.4 291.3 L259.4 293.6 L261.4 295.9 L263.4 298.2 L265.4 300.6 L267.4 303.1 L269.4 305.5 L271.4 308.0 L273.4 310.5 L275.4 313.0 L277.4 315.6 L279.4 318.2 L281.4 320.8 L283.4 323.5 L285.4 326.2 L287.4 328.9 L289.4 331.6 L291.4 334.4 L293.4 337.2 L295.4 340.0 L297.4 342.9 L299.4 345.8 L301.4 348.7 L303.4 351.6 L305.4 354.6 L307.4 357.6 L309.4 360.6 L311.4 363.6 L313.4 366.6 L315.4 369.7 L317.4 372.8 L319.4 375.9 L321.4 378.9 L323.4 382.0 L325.4 385.2 L327.4 388.3 L329.4 391.4 L331.4 394.5 L333.4 397.6 L335.4 400.7 L337.4 403.8 L339.4 406.9 L341.4 410.0 L343.4 413.1 L345.4 416.1 L347.4 419.2 L349.4 422.2 L351.4 425.2 L353.4 428.2 L355.4 431.2 L357.4 434.1 L359.4 437.1 L361.4 439.9 L363.4 442.8 L365.4 445.6 L367.4 448.4 L369.4 451.2 L371.4 453.9 L373.4 456.6 L375.4 459.2 L377.4 461.9 L379.4 464.5 L381.4 467.0 L383.4 469.6 L385.4 472.1 L387.4 474.5 L389.4 477.0 L391.4 479.4 L393.4 481.7 L395.4 484.1 L397.4 486.4 L399.4 488.7 L401.4 490.9 L403.4 493.1 L405.4 495.3 L407.4 497.5 L409.4 499.6 L411.4 501.7 L413.4 503.7 L415.4 505.8 L417.4 507.8 L419.4 509.7 L421.4 511.7 L423.4 513.6 L425.4 515.5 L427.4 517.3 L429.4 519.1 L431.4 520.9 L433.4 522.7 L435.4 524.4 L437.4 526.1 L439.4 527.8 L441.4 529.4 L443.4 531.1 L445.4 532.6 L447.4 534.2 L449.4 535.7 L451.4 537.2 L453.4 538.7 L455.4 540.2 L457.4 541.6 L459.4 543.0 L461.4 544.4 L463.4 545.7 L465.4 547.0 L467.4 548.3 L469.4 549.6 L471.4 550.8 L473.4 552.0 L475.4 553.2 L477.4 554.4 L479.4 555.5 L481.4 556.6 L483.4 557.7 L485.4 558.8 L487.4 559.9 L489.4 560.9 L491.4 561.9 L493.4 562.9 L495.4 563.8 L497.4 564.8 L499.4 565.7 L501.4 566.6 L503.4 567.5 L505.4 568.3 L507.4 569.1 L509.4 570.0 L511.4 570.8 L513.4 571.5 L515.4 572.3 L517.4 573.0 L519.4 573.7 L521.4 574.4 L523.4 575.1 L525.4 575.8 L527.4 576.4 L529.4 577.0 L531.4 577.7 L533.4 578.2 L535.4 578.8 L537.4 579.4 L539.4 579.9 L541.4 580.5 L543.4 581.0 L545.4 581.5 L547.4 581.9 L549.4 582.4 L551.4 582.9 L553.4 583.3 L555.4 583.7 L557.4 584.1 L559.4 584.5 L561.4 584.9 L563.4 585.3 L565.4 585.6 L567.4 586.0 L569.4 586.3 L571.4 586.6 L573.4 586.9 L575.4 587.2 L577.4 587.5 L579.4 587.8 L581.4 588.1 L583.4 588.3 L585.4 588.6 L587.4 588.8 L589.4 589.0 L591.4 589.3 L593.4 589.5 L595.4 589.7 L597.4 589.9 L599.4 590.0 L601.4 590.2 L603.4 590.4 L605.4 590.5 L607.4 590.7 L609.4 590.8 L611.4 591.0 L613.4 591.1 L615.4 591.2 L617.4 591.4 L619.4 591.5 L621.4 591.6 L623.4 591.7 L625.4 591.8 L627.4 591.9 L629.4 592.0 L631.4 592.1 L633.4 592.1 L635.4 592.2 L637.4 592.3 L639.4 592.4 L641.4 592.5 L643.4 592.5 L645.4 592.6 L647.4 592.7 L649.4 592.7 L651.4 592.8 L653.4 592.8 L655.4 592.9 L657.4 593.0 L659.4 593.0 L661.4 593.1 L663.4 593.1 L665.4 593.2 L667.4 593.3 L669.4 593.3 L671.4 593.4 L673.4 593.5 L675.4 593.5 L677.4 593.6 L679.4 593.7 L681.4 593.7 L683.4 593.8 L685.4 593.9 L687.4 594.0 L689.4 594.0 L691.4 594.1 L693.4 594.2 L695.4 594.3 L697.4 594.3 L699.4 594.4 L701.4 594.5 L703.4 594.6 L705.4 594.6 L707.4 594.7 L709.4 594.8 L711.4 594.9 L713.4 595.0 L715.4 595.0 L717.4 595.1 L719.4 595.2 L721.4 595.3 L723.4 595.3 L725.4 595.4 L727.4 595.5 L729.4 595.6 L731.4 595.7 L733.4 595.7 L735.4 595.8 L737.4 595.9 L739.4 596.0 L741.4 596.1 L743.4 596.1 L745.4 596.2 L747.4 596.3 L749.4 596.4 L751.4 596.4 L753.4 596.5 L755.4 596.6 L757.4 596.7 L759.4 596.7 L761.4 596.8 L763.4 596.9 L765.4 597.0 L767.4 597.0 L769.4 597.1 L771.4 597.2 L773.4 597.2 L775.4 597.3 L777.4 597.4 L779.4 597.4 L781.4 597.5 L783.4 597.6 L785.4 597.6 L787.4 597.7 L789.4 597.7 L791.4 597.8 L793.4 597.8 L795.4 597.9 L797.4 598.0 L799.4 598.0 L801.4 598.0 L803.4 598.1 L805.4 598.1 L807.4 598.2 L809.4 598.2 L811.4 598.3 L813.4 598.3 L815.4 598.3 L817.4 598.4 L819.4 598.4 L821.4 598.4 L823.4 598.5 L825.4 598.5 L827.4 598.5 L829.4 598.5 L831.4 598.6 L833.4 598.6 L835.4 598.6 L837.4 598.6 L839.4 598.6 L841.4 598.6 L843.4 598.6 L845.4 598.6 L847.4 598.6 L849.4 598.6 L851.4 598.6 L853.4 598.6 L855.4 598.6 L857.4 598.6 L859.4 598.6 L861.4 598.6 L863.4 598.5 L865.4 598.5 L867.4 598.5 L869.4 598.4 L871.4 598.4 L873.4 598.4 L875.4 598.3 L877.4 598.3 L879.4 598.2 L881.4 598.2 L883.4 598.1 L885.4 598.1 L887.4 598.0 L889.4 598.0 L891.4 597.9 L893.4 597.8 L895.4 597.8 L897.4 597.7 L899.4 597.6 L901.4 597.5 L903.4 597.4 L905.4 597.3 L907.4 597.2 L909.4 597.1 L911.4 597.0 L913.4 596.9 L915.4 596.8 L917.4 596.7 L919.4 596.6 L921.4 596.4" fill="none" stroke="#3a42a4" stroke-width="4.6" stroke-linecap="round" stroke-linejoin="round" stroke-dasharray="15 24" stroke-dashoffset="1.32"/>
<path d="M153.4 29.6 L155.4 30.4 L157.4 31.2 L159.4 32.1 L161.4 32.9 L163.4 33.8 L165.4 34.8 L167.4 35.7 L169.4 36.7 L171.4 37.7 L173.4 38.7 L175.4 39.8 L177.4 40.9 L179.4 42.0 L181.4 43.1 L183.4 44.3 L185.4 45.5 L187.4 46.7 L189.4 47.9 L191.4 49.2 L193.4 50.5 L195.4 51.8 L197.4 53.2 L199.4 54.6 L201.4 56.0 L203.4 57.4 L205.4 58.9 L207.4 60.4 L209.4 61.9 L211.4 63.4 L213.4 65.0 L215.4 66.6 L217.4 68.2 L219.4 69.9 L221.4 71.6 L223.4 73.3 L225.4 75.0 L227.4 76.8 L229.4 78.6 L231.4 80.4 L233.4 82.3 L235.4 84.1 L237.4 86.0 L239.4 88.0 L241.4 89.9 L243.4 91.9 L245.4 93.9 L247.4 96.0 L249.4 98.0 L251.4 100.1 L253.4 102.2 L255.4 104.4 L257.4 106.6 L259.4 108.8 L261.4 111.0 L263.4 113.3 L265.4 115.6 L267.4 117.9 L269.4 120.2 L271.4 122.6 L273.4 125.0 L275.4 127.4 L277.4 129.9 L279.4 132.4 L281.4 134.9 L283.4 137.4 L285.4 140.0 L287.4 142.6 L289.4 145.2 L291.4 147.9 L293.4 150.6 L295.4 153.3 L297.4 156.0 L299.4 158.8 L301.4 161.6 L303.4 164.4 L305.4 167.3 L307.4 170.2 L309.4 173.1 L311.4 176.0 L313.4 178.9 L315.4 181.9 L317.4 184.9 L319.4 188.0 L321.4 191.0 L323.4 194.1 L325.4 197.2 L327.4 200.3 L329.4 203.4 L331.4 206.6 L333.4 209.7 L335.4 212.9 L337.4 216.1 L339.4 219.3 L341.4 222.6 L343.4 225.8 L345.4 229.1 L347.4 232.3 L349.4 235.6 L351.4 238.9 L353.4 242.2 L355.4 245.5 L357.4 248.8 L359.4 252.2 L361.4 255.5 L363.4 258.8 L365.4 262.2 L367.4 265.5 L369.4 268.9 L371.4 272.2 L373.4 275.6 L375.4 279.0 L377.4 282.3 L379.4 285.7 L381.4 289.0 L383.4 292.4 L385.4 295.8 L387.4 299.1 L389.4 302.5 L391.4 305.8 L393.4 309.1 L395.4 312.5 L397.4 315.8 L399.4 319.1 L401.4 322.5 L403.4 325.8 L405.4 329.1 L407.4 332.3 L409.4 335.6 L411.4 338.9 L413.4 342.1 L415.4 345.4 L417.4 348.6 L419.4 351.8 L421.4 355.0 L423.4 358.2 L425.4 361.3 L427.4 364.5 L429.4 367.6 L431.4 370.7 L433.4 373.8 L435.4 376.8 L437.4 379.9 L439.4 382.9 L441.4 385.9 L443.4 388.9 L445.4 391.8 L447.4 394.8 L449.4 397.7 L451.4 400.6 L453.4 403.4 L455.4 406.3 L457.4 409.1 L459.4 411.9 L461.4 414.7 L463.4 417.4 L465.4 420.1 L467.4 422.8 L469.4 425.5 L471.4 428.1 L473.4 430.8 L475.4 433.4 L477.4 435.9 L479.4 438.5 L481.4 441.0 L483.4 443.5 L485.4 445.9 L487.4 448.3 L489.4 450.7 L491.4 453.1 L493.4 455.4 L495.4 457.8 L497.4 460.0 L499.4 462.3 L501.4 464.5 L503.4 466.7 L505.4 468.9 L507.4 471.0 L509.4 473.1 L511.4 475.2 L513.4 477.2 L515.4 479.2 L517.4 481.2 L519.4 483.1 L521.4 485.1 L523.4 486.9 L525.4 488.8 L527.4 490.6 L529.4 492.5 L531.4 494.2 L533.4 496.0 L535.4 497.7 L537.4 499.4 L539.4 501.1 L541.4 502.7 L543.4 504.3 L545.4 505.9 L547.4 507.5 L549.4 509.1 L551.4 510.6 L553.4 512.1 L555.4 513.5 L557.4 515.0 L559.4 516.4 L561.4 517.8 L563.4 519.2 L565.4 520.5 L567.4 521.9 L569.4 523.2 L571.4 524.5 L573.4 525.7 L575.4 527.0 L577.4 528.2 L579.4 529.4 L581.4 530.6 L583.4 531.7 L585.4 532.8 L587.4 534.0 L589.4 535.1 L591.4 536.1 L593.4 537.2 L595.4 538.2 L597.4 539.3 L599.4 540.3 L601.4 541.2 L603.4 542.2 L605.4 543.2 L607.4 544.1 L609.4 545.0 L611.4 545.9 L613.4 546.8 L615.4 547.6 L617.4 548.5 L619.4 549.3 L621.4 550.1 L623.4 550.9 L625.4 551.7 L627.4 552.5 L629.4 553.2 L631.4 553.9 L633.4 554.7 L635.4 555.4 L637.4 556.0 L639.4 556.7 L641.4 557.4 L643.4 558.0 L645.4 558.7 L647.4 559.3 L649.4 559.9 L651.4 560.5 L653.4 561.1 L655.4 561.6 L657.4 562.2 L659.4 562.7 L661.4 563.2 L663.4 563.8 L665.4 564.3 L667.4 564.8 L669.4 565.2 L671.4 565.7 L673.4 566.2 L675.4 566.6 L677.4 567.1 L679.4 567.5 L681.4 567.9 L683.4 568.3 L685.4 568.7 L687.4 569.1 L689.4 569.5 L691.4 569.9 L693.4 570.3 L695.4 570.6 L697.4 571.0 L699.4 571.3 L701.4 571.6 L703.4 572.0 L705.4 572.3 L707.4 572.6 L709.4 572.9 L711.4 573.2 L713.4 573.5 L715.4 573.8 L717.4 574.1 L719.4 574.3 L721.4 574.6 L723.4 574.9 L725.4 575.1 L727.4 575.4 L729.4 575.6 L731.4 575.9 L733.4 576.1 L735.4 576.4 L737.4 576.6 L739.4 576.8 L741.4 577.0 L743.4 577.3 L745.4 577.5 L747.4 577.7 L749.4 577.9 L751.4 578.1 L753.4 578.3 L755.4 578.5 L757.4 578.7 L759.4 578.9 L761.4 579.1 L763.4 579.3 L765.4 579.5 L767.4 579.7 L769.4 579.9 L771.4 580.1 L773.4 580.3 L775.4 580.5 L777.4 580.7 L779.4 580.8 L781.4 581.0 L783.4 581.2 L785.4 581.4 L787.4 581.5 L789.4 581.7 L791.4 581.9 L793.4 582.0 L795.4 582.2 L797.4 582.3 L799.4 582.5 L801.4 582.6 L803.4 582.8 L805.4 582.9 L807.4 583.1 L809.4 583.2 L811.4 583.4 L813.4 583.5 L815.4 583.6 L817.4 583.8 L819.4 583.9 L821.4 584.0 L823.4 584.2 L825.4 584.3 L827.4 584.4 L829.4 584.5 L831.4 584.6 L833.4 584.7 L835.4 584.8 L837.4 585.0 L839.4 585.1 L841.4 585.2 L843.4 585.3 L845.4 585.4 L847.4 585.4 L849.4 585.5 L851.4 585.6 L853.4 585.7 L855.4 585.8 L857.4 585.9 L859.4 586.0 L861.4 586.0 L863.4 586.1 L865.4 586.2 L867.4 586.2 L869.4 586.3 L871.4 586.4 L873.4 586.4 L875.4 586.5 L877.4 586.5 L879.4 586.6 L881.4 586.6 L883.4 586.7 L885.4 586.7 L887.4 586.8 L889.4 586.8 L891.4 586.8 L893.4 586.9 L895.4 586.9 L897.4 586.9 L899.4 586.9 L901.4 587.0 L903.4 587.0 L905.4 587.0 L907.4 587.0 L909.4 587.0 L911.4 587.0 L913.4 587.0 L915.4 587.0 L917.4 587.0 L919.4 587.0 L921.4 587.0" fill="none" stroke="#8cc63f" stroke-width="4.6" stroke-linecap="round" stroke-linejoin="round" stroke-dasharray="19.5 13.2 2 14.6" stroke-dashoffset="5.62"/>
<path d="M158.0 56.5 L160.0 56.7 L162.0 57.0 L164.0 57.2 L166.0 57.5 L168.0 57.7 L170.0 58.0 L172.0 58.2 L174.0 58.5 L176.0 58.7 L178.0 58.9 L180.0 59.2 L182.0 59.4 L184.0 59.6 L186.0 59.9 L188.0 60.1 L190.0 60.3 L192.0 60.6 L194.0 60.8 L196.0 61.1 L198.0 61.3 L200.0 61.5 L202.0 61.8 L204.0 62.1 L206.0 62.3 L208.0 62.6 L210.0 62.9 L212.0 63.2 L214.0 63.5 L216.0 63.8 L218.0 64.1 L220.0 64.4 L222.0 64.7 L224.0 65.1 L226.0 65.5 L228.0 65.8 L230.0 66.2 L232.0 66.6 L234.0 67.0 L236.0 67.4 L238.0 67.9 L240.0 68.3 L242.0 68.8 L244.0 69.3 L246.0 69.8 L248.0 70.3 L250.0 70.9 L252.0 71.4 L254.0 72.0 L256.0 72.6 L258.0 73.2 L260.0 73.9 L262.0 74.5 L264.0 75.2 L266.0 75.9 L268.0 76.7 L270.0 77.4 L272.0 78.2 L274.0 79.0 L276.0 79.8 L278.0 80.7 L280.0 81.6 L282.0 82.5 L284.0 83.4 L286.0 84.4 L288.0 85.4 L290.0 86.4 L292.0 87.5 L294.0 88.6 L296.0 89.7 L298.0 90.8 L300.0 92.0 L302.0 93.2 L304.0 94.5 L306.0 95.8 L308.0 97.1 L310.0 98.4 L312.0 99.8 L314.0 101.3 L316.0 102.7 L318.0 104.2 L320.0 105.8 L322.0 107.3 L324.0 109.0 L326.0 110.6 L328.0 112.3 L330.0 114.0 L332.0 115.8 L334.0 117.6 L336.0 119.5 L338.0 121.4 L340.0 123.4 L342.0 125.4 L344.0 127.4 L346.0 129.5 L348.0 131.6 L350.0 133.8 L352.0 136.0 L354.0 138.3 L356.0 140.6 L358.0 143.0 L360.0 145.4 L362.0 147.9 L364.0 150.4 L366.0 153.0 L368.0 155.6 L370.0 158.2 L372.0 160.9 L374.0 163.7 L376.0 166.5 L378.0 169.4 L380.0 172.2 L382.0 175.2 L384.0 178.2 L386.0 181.2 L388.0 184.3 L390.0 187.4 L392.0 190.5 L394.0 193.7 L396.0 196.9 L398.0 200.2 L400.0 203.5 L402.0 206.8 L404.0 210.2 L406.0 213.6 L408.0 217.0 L410.0 220.5 L412.0 224.0 L414.0 227.5 L416.0 231.1 L418.0 234.7 L420.0 238.3 L422.0 242.0 L424.0 245.7 L426.0 249.4 L428.0 253.1 L430.0 256.9 L432.0 260.6 L434.0 264.4 L436.0 268.3 L438.0 272.1 L440.0 275.9 L442.0 279.8 L444.0 283.6 L446.0 287.5 L448.0 291.4 L450.0 295.3 L452.0 299.2 L454.0 303.1 L456.0 307.0 L458.0 310.9 L460.0 314.8 L462.0 318.7 L464.0 322.6 L466.0 326.5 L468.0 330.4 L470.0 334.2 L472.0 338.1 L474.0 341.9 L476.0 345.8 L478.0 349.6 L480.0 353.4 L482.0 357.2 L484.0 361.0 L486.0 364.7 L488.0 368.5 L490.0 372.2 L492.0 375.9 L494.0 379.5 L496.0 383.2 L498.0 386.8 L500.0 390.4 L502.0 394.0 L504.0 397.5 L506.0 401.0 L508.0 404.5 L510.0 408.0 L512.0 411.4 L514.0 414.8 L516.0 418.1 L518.0 421.4 L520.0 424.7 L522.0 427.9 L524.0 431.1 L526.0 434.3 L528.0 437.4 L530.0 440.4 L532.0 443.5 L534.0 446.4 L536.0 449.4 L538.0 452.3 L540.0 455.1 L542.0 457.9 L544.0 460.7 L546.0 463.4 L548.0 466.1 L550.0 468.7 L552.0 471.3 L554.0 473.8 L556.0 476.3 L558.0 478.8 L560.0 481.2 L562.0 483.5 L564.0 485.9 L566.0 488.1 L568.0 490.4 L570.0 492.6 L572.0 494.8 L574.0 496.9 L576.0 498.9 L578.0 501.0 L580.0 503.0 L582.0 504.9 L584.0 506.8 L586.0 508.7 L588.0 510.5 L590.0 512.3 L592.0 514.1 L594.0 515.8 L596.0 517.5 L598.0 519.1 L600.0 520.7 L602.0 522.2 L604.0 523.7 L606.0 525.2 L608.0 526.7 L610.0 528.0 L612.0 529.4 L614.0 530.7 L616.0 532.0 L618.0 533.3 L620.0 534.5 L622.0 535.7 L624.0 536.8 L626.0 537.9 L628.0 539.0 L630.0 540.0 L632.0 541.1 L634.0 542.1 L636.0 543.0 L638.0 543.9 L640.0 544.8 L642.0 545.7 L644.0 546.6 L646.0 547.4 L648.0 548.2 L650.0 549.0 L652.0 549.7 L654.0 550.4 L656.0 551.1 L658.0 551.8 L660.0 552.4 L662.0 553.1 L664.0 553.7 L666.0 554.3 L668.0 554.9 L670.0 555.4 L672.0 555.9 L674.0 556.5 L676.0 557.0 L678.0 557.5 L680.0 557.9 L682.0 558.4 L684.0 558.8 L686.0 559.3 L688.0 559.7 L690.0 560.1 L692.0 560.5 L694.0 560.8 L696.0 561.2 L698.0 561.6 L700.0 561.9 L702.0 562.3 L704.0 562.6 L706.0 562.9 L708.0 563.3 L710.0 563.6 L712.0 563.9 L714.0 564.2 L716.0 564.5 L718.0 564.8 L720.0 565.1 L722.0 565.3 L724.0 565.6 L726.0 565.9 L728.0 566.1 L730.0 566.4 L732.0 566.6 L734.0 566.9 L736.0 567.1 L738.0 567.3 L740.0 567.5 L742.0 567.8 L744.0 568.0 L746.0 568.2 L748.0 568.4 L750.0 568.6 L752.0 568.8 L754.0 569.0 L756.0 569.2 L758.0 569.3 L760.0 569.5 L762.0 569.7 L764.0 569.8 L766.0 570.0 L768.0 570.2 L770.0 570.3 L772.0 570.5 L774.0 570.6 L776.0 570.7 L778.0 570.9 L780.0 571.0 L782.0 571.1 L784.0 571.3 L786.0 571.4 L788.0 571.5 L790.0 571.6 L792.0 571.7 L794.0 571.8 L796.0 571.9 L798.0 572.0 L800.0 572.2 L802.0 572.2 L804.0 572.3 L806.0 572.4 L808.0 572.5 L810.0 572.6 L812.0 572.7 L814.0 572.8 L816.0 572.9 L818.0 573.0 L820.0 573.0 L822.0 573.1 L824.0 573.2 L826.0 573.3 L828.0 573.3 L830.0 573.4 L832.0 573.5 L834.0 573.5 L836.0 573.6 L838.0 573.7 L840.0 573.7 L842.0 573.8 L844.0 573.9 L846.0 573.9 L848.0 574.0 L850.0 574.0 L852.0 574.1 L854.0 574.2 L856.0 574.2 L858.0 574.3 L860.0 574.3 L862.0 574.4 L864.0 574.5 L866.0 574.5 L868.0 574.6 L870.0 574.7 L872.0 574.7 L874.0 574.8 L876.0 574.8 L878.0 574.9 L880.0 575.0 L882.0 575.0 L884.0 575.1 L886.0 575.2 L888.0 575.2 L890.0 575.3 L892.0 575.4 L894.0 575.5 L896.0 575.5 L898.0 575.6 L900.0 575.7 L902.0 575.8 L904.0 575.9 L906.0 575.9 L908.0 576.0 L910.0 576.1 L912.0 576.2 L914.0 576.3 L916.0 576.4 L918.0 576.5 L920.0 576.6" fill="none" stroke="#111111" stroke-width="4.1" stroke-linecap="round" stroke-linejoin="round" stroke-dasharray="6.8 11.45" stroke-dashoffset="-3.01"/>
<path d="M153.4 81.6 L155.4 80.4 L157.4 79.2 L159.4 78.2 L161.4 77.3 L163.4 76.4 L165.4 75.7 L167.4 75.0 L169.4 74.5 L171.4 74.0 L173.4 73.6 L175.4 73.4 L177.4 73.2 L179.4 73.1 L181.4 73.1 L183.4 73.2 L185.4 73.3 L187.4 73.6 L189.4 73.9 L191.4 74.4 L193.4 74.9 L195.4 75.5 L197.4 76.1 L199.4 76.9 L201.4 77.7 L203.4 78.6 L205.4 79.6 L207.4 80.7 L209.4 81.8 L211.4 83.0 L213.4 84.3 L215.4 85.6 L217.4 87.1 L219.4 88.5 L221.4 90.1 L223.4 91.7 L225.4 93.4 L227.4 95.2 L229.4 97.0 L231.4 98.9 L233.4 100.8 L235.4 102.8 L237.4 104.9 L239.4 107.0 L241.4 109.2 L243.4 111.4 L245.4 113.7 L247.4 116.1 L249.4 118.5 L251.4 120.9 L253.4 123.5 L255.4 126.0 L257.4 128.6 L259.4 131.3 L261.4 134.0 L263.4 136.7 L265.4 139.5 L267.4 142.3 L269.4 145.2 L271.4 148.1 L273.4 151.1 L275.4 154.1 L277.4 157.1 L279.4 160.2 L281.4 163.3 L283.4 166.5 L285.4 169.7 L287.4 172.9 L289.4 176.1 L291.4 179.4 L293.4 182.7 L295.4 186.1 L297.4 189.4 L299.4 192.8 L301.4 196.3 L303.4 199.7 L305.4 203.2 L307.4 206.7 L309.4 210.2 L311.4 213.7 L313.4 217.3 L315.4 220.9 L317.4 224.4 L319.4 228.1 L321.4 231.7 L323.4 235.3 L325.4 239.0 L327.4 242.6 L329.4 246.3 L331.4 250.0 L333.4 253.7 L335.4 257.4 L337.4 261.1 L339.4 264.8 L341.4 268.5 L343.4 272.2 L345.4 275.9 L347.4 279.6 L349.4 283.3 L351.4 287.0 L353.4 290.7 L355.4 294.4 L357.4 298.1 L359.4 301.8 L361.4 305.5 L363.4 309.2 L365.4 312.8 L367.4 316.5 L369.4 320.1 L371.4 323.7 L373.4 327.3 L375.4 330.9 L377.4 334.5 L379.4 338.1 L381.4 341.6 L383.4 345.1 L385.4 348.6 L387.4 352.1 L389.4 355.6 L391.4 359.0 L393.4 362.4 L395.4 365.8 L397.4 369.2 L399.4 372.5 L401.4 375.8 L403.4 379.1 L405.4 382.4 L407.4 385.6 L409.4 388.8 L411.4 392.0 L413.4 395.1 L415.4 398.2 L417.4 401.3 L419.4 404.3 L421.4 407.3 L423.4 410.3 L425.4 413.2 L427.4 416.1 L429.4 419.0 L431.4 421.8 L433.4 424.6 L435.4 427.4 L437.4 430.1 L439.4 432.8 L441.4 435.5 L443.4 438.1 L445.4 440.7 L447.4 443.2 L449.4 445.8 L451.4 448.3 L453.4 450.7 L455.4 453.2 L457.4 455.6 L459.4 457.9 L461.4 460.3 L463.4 462.6 L465.4 464.8 L467.4 467.1 L469.4 469.3 L471.4 471.5 L473.4 473.6 L475.4 475.7 L477.4 477.8 L479.4 479.9 L481.4 481.9 L483.4 483.9 L485.4 485.9 L487.4 487.8 L489.4 489.7 L491.4 491.6 L493.4 493.4 L495.4 495.3 L497.4 497.1 L499.4 498.8 L501.4 500.6 L503.4 502.3 L505.4 504.0 L507.4 505.6 L509.4 507.2 L511.4 508.9 L513.4 510.4 L515.4 512.0 L517.4 513.5 L519.4 515.0 L521.4 516.5 L523.4 517.9 L525.4 519.3 L527.4 520.7 L529.4 522.1 L531.4 523.5 L533.4 524.8 L535.4 526.1 L537.4 527.3 L539.4 528.6 L541.4 529.8 L543.4 531.0 L545.4 532.2 L547.4 533.3 L549.4 534.5 L551.4 535.6 L553.4 536.7 L555.4 537.7 L557.4 538.8 L559.4 539.8 L561.4 540.8 L563.4 541.7 L565.4 542.7 L567.4 543.6 L569.4 544.5 L571.4 545.4 L573.4 546.3 L575.4 547.1 L577.4 547.9 L579.4 548.7 L581.4 549.5 L583.4 550.3 L585.4 551.0 L587.4 551.8 L589.4 552.5 L591.4 553.2 L593.4 553.8 L595.4 554.5 L597.4 555.1 L599.4 555.7 L601.4 556.3 L603.4 556.9 L605.4 557.4 L607.4 558.0 L609.4 558.5 L611.4 559.0 L613.4 559.5 L615.4 560.0 L617.4 560.4 L619.4 560.9 L621.4 561.3 L623.4 561.7 L625.4 562.1 L627.4 562.5 L629.4 562.8 L631.4 563.2 L633.4 563.5 L635.4 563.9 L637.4 564.2 L639.4 564.5 L641.4 564.8 L643.4 565.0 L645.4 565.3 L647.4 565.6 L649.4 565.8 L651.4 566.0 L653.4 566.2 L655.4 566.5 L657.4 566.7 L659.4 566.8 L661.4 567.0 L663.4 567.2 L665.4 567.4 L667.4 567.5 L669.4 567.7 L671.4 567.8 L673.4 567.9 L675.4 568.1 L677.4 568.2 L679.4 568.3 L681.4 568.4 L683.4 568.5 L685.4 568.6 L687.4 568.7 L689.4 568.8 L691.4 568.8 L693.4 568.9 L695.4 569.0 L697.4 569.0 L699.4 569.1 L701.4 569.2 L703.4 569.2 L705.4 569.3 L707.4 569.3 L709.4 569.4 L711.4 569.4 L713.4 569.5 L715.4 569.5 L717.4 569.5 L719.4 569.6 L721.4 569.6 L723.4 569.7 L725.4 569.7 L727.4 569.8 L729.4 569.8 L731.4 569.8 L733.4 569.9 L735.4 569.9 L737.4 570.0 L739.4 570.0 L741.4 570.1 L743.4 570.1 L745.4 570.1 L747.4 570.2 L749.4 570.2 L751.4 570.3 L753.4 570.3 L755.4 570.3 L757.4 570.4 L759.4 570.4 L761.4 570.5 L763.4 570.5 L765.4 570.6 L767.4 570.6 L769.4 570.6 L771.4 570.7 L773.4 570.7 L775.4 570.8 L777.4 570.8 L779.4 570.9 L781.4 570.9 L783.4 570.9 L785.4 571.0 L787.4 571.0 L789.4 571.1 L791.4 571.1 L793.4 571.1 L795.4 571.2 L797.4 571.2 L799.4 571.3 L801.4 571.3 L803.4 571.3 L805.4 571.4 L807.4 571.4 L809.4 571.4 L811.4 571.5 L813.4 571.5 L815.4 571.5 L817.4 571.6 L819.4 571.6 L821.4 571.7 L823.4 571.7 L825.4 571.7 L827.4 571.8 L829.4 571.8 L831.4 571.8 L833.4 571.9 L835.4 571.9 L837.4 571.9 L839.4 571.9 L841.4 572.0 L843.4 572.0 L845.4 572.0 L847.4 572.1 L849.4 572.1 L851.4 572.1 L853.4 572.1 L855.4 572.2 L857.4 572.2 L859.4 572.2 L861.4 572.2 L863.4 572.3 L865.4 572.3 L867.4 572.3 L869.4 572.3 L871.4 572.4 L873.4 572.4 L875.4 572.4 L877.4 572.4 L879.4 572.4 L881.4 572.5 L883.4 572.5 L885.4 572.5 L887.4 572.5 L889.4 572.5 L891.4 572.5 L893.4 572.5 L895.4 572.6 L897.4 572.6 L899.4 572.6 L901.4 572.6 L903.4 572.6 L905.4 572.6 L907.4 572.6 L909.4 572.6 L911.4 572.6 L913.4 572.6 L915.4 572.6 L917.4 572.6 L919.4 572.6 L921.4 572.6" fill="none" stroke="#b3232a" stroke-width="4.4" stroke-linecap="round" stroke-linejoin="round" stroke-dasharray="14.2 13.75 2 13.75 2 14.25" stroke-dashoffset="-0.1"/>
</g>
<text x="154.9" y="675.5" text-anchor="middle" class="t">0.0</text>
<text x="282.9" y="675.5" text-anchor="middle" class="t">0.5</text>
<text x="410.9" y="675.5" text-anchor="middle" class="t">1.0</text>
<text x="538.9" y="675.5" text-anchor="middle" class="t">1.5</text>
<text x="667.0" y="675.5" text-anchor="middle" class="t">2.0</text>
<text x="795.0" y="675.5" text-anchor="middle" class="t">2.5</text>
<text x="923.0" y="675.5" text-anchor="middle" class="t">3.0</text>
<text x="111" y="631.9" text-anchor="end" class="t">0</text>
<text x="111" y="510.8" text-anchor="end" class="t">3</text>
<text x="111" y="389.7" text-anchor="end" class="t">6</text>
<text x="111" y="268.6" text-anchor="end" class="t">9</text>
<text x="111" y="147.5" text-anchor="end" class="t">12</text>
<text x="111" y="26.4" text-anchor="end" class="t">15</text>
<text x="476.5" y="725.8" class="l">r (mm)</text>
<text transform="translate(41.7 630) rotate(-90)" class="l2">OH radical density ( *10<tspan dy="-18" class="sup">13</tspan><tspan dy="18"> cm</tspan><tspan dy="-18" class="sup">-3</tspan><tspan dy="18">)</tspan></text>
<rect x="618.3" y="43.3" width="270.5" height="274" fill="#fff" stroke="#666" stroke-width="1.3"/>
<line x1="634" y1="74.2" x2="731" y2="74.2" stroke="#a6d6dd" stroke-width="4.9" stroke-linecap="round"/>
<text x="872" y="89.0" text-anchor="end" class="lg">0.2 L/min</text>
<line x1="634" y1="127" x2="731" y2="127" stroke="#3a42a4" stroke-width="4.9" stroke-linecap="round" stroke-dasharray="16 24"/>
<text x="867.5" y="141.0" text-anchor="end" class="lg">0.5 L/min</text>
<line x1="634" y1="180.3" x2="731" y2="180.3" stroke="#8cc63f" stroke-width="4.9" stroke-linecap="round" stroke-dasharray="20 13.5 2 15"/>
<text x="867.5" y="195.1" text-anchor="end" class="lg">1&#160; L/min</text>
<line x1="634" y1="233" x2="731" y2="233" stroke="#b3232a" stroke-width="4.9" stroke-linecap="round" stroke-dasharray="14.4 13.9 2 13.9 2 14.4"/>
<text x="867.5" y="248.2" text-anchor="end" class="lg">2&#160; L/min</text>
<line x1="634" y1="286.5" x2="731" y2="286.5" stroke="#111" stroke-width="4.9" stroke-linecap="round" stroke-dasharray="5.9 12.5"/>
<text x="867.5" y="300.5" text-anchor="end" class="lg">3&#160; L/min</text>
</svg>
</body></html>
